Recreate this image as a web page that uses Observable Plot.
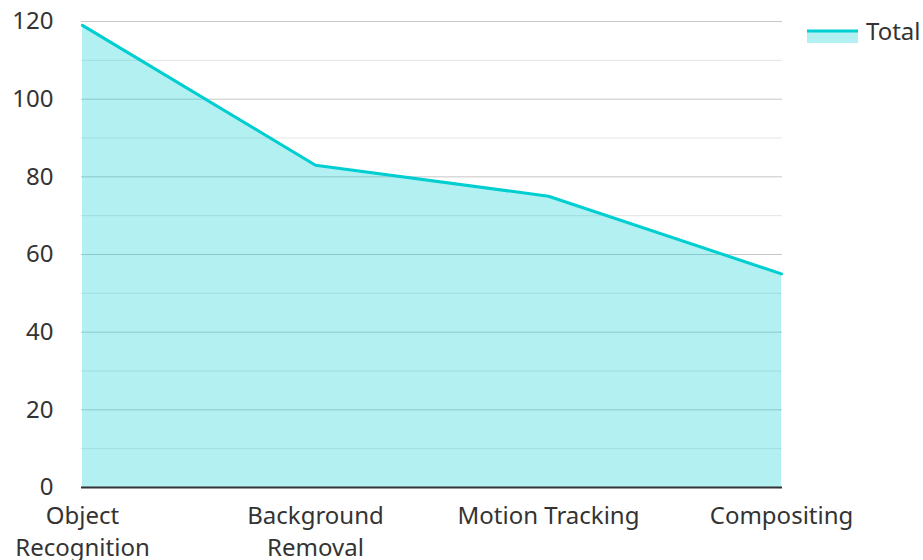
<!DOCTYPE html>
<html>
<head>
<meta charset="utf-8">
<script src="https://cdn.jsdelivr.net/npm/d3@7"></script>
<script src="https://cdn.jsdelivr.net/npm/@observablehq/plot@0.6"></script>
<style>
  html, body { margin: 0; padding: 0; background: #fff; }
  #wrap { position: relative; width: 923px; height: 560px; font-family: "Noto Sans", sans-serif; }
  #legend { position: absolute; left: 807px; top: 16px; display: flex; align-items: center; font-size: 24px; color: #333; line-height: 30px; }
  #legend svg { margin-right: 8px; }
</style>
</head>
<body>
<div id="wrap"><div id="legend"></div></div>
<script>
const categories = ["Object Recognition", "Background Removal", "Motion Tracking", "Compositing"];
const tickLabels = ["Object\nRecognition", "Background\nRemoval", "Motion Tracking", "Compositing"];
const totals = [119, 83, 75, 55];
const majorTicks = [0, 20, 40, 60, 80, 100, 120];
const minorTicks = [10, 30, 50, 70, 90, 110];
const seriesName = "Total";
const color = "#00CED1";

const data = categories.map((c, i) => ({category: c, value: totals[i]}));
const labelOf = new Map(categories.map((c, i) => [c, tickLabels[i]]));

const chart = Plot.plot({
  width: 923,
  height: 560,
  marginLeft: 81,
  marginRight: 141,
  marginTop: 21,
  marginBottom: 73,
  style: {fontFamily: "Noto Sans, sans-serif", fontSize: "24px", color: "#333", background: "#fff"},
  x: {type: "point", domain: categories, padding: 0},
  y: {domain: [0, 120]},
  marks: [
    Plot.ruleY(minorTicks, {stroke: "#e4e4e4", strokeWidth: 1}),
    Plot.ruleY(majorTicks.filter(d => d > 0), {stroke: "#c6c6c6", strokeWidth: 1}),
    Plot.areaY(data, {x: "category", y: "value", fill: color, fillOpacity: 0.3}),
    Plot.lineY(data, {x: "category", y: "value", stroke: color, strokeWidth: 3}),
    Plot.ruleY([0], {stroke: "#333", strokeWidth: 2}),
    Plot.axisY({ticks: majorTicks, tickSize: 0, tickPadding: 28, fontSize: 24, fill: "#333", label: null}),
    Plot.axisX({tickSize: 0, tickPadding: 14, fontSize: 24, fill: "#333", lineHeight: 1.33, label: null, tickFormat: d => labelOf.get(d)})
  ]
});
document.getElementById("wrap").prepend(chart);

const lg = document.getElementById("legend");
lg.innerHTML = `<svg width="51" height="30"><rect x="0" y="15" width="51" height="12" fill="${color}" fill-opacity="0.3"></rect><rect x="0" y="13.5" width="51" height="3" fill="${color}"></rect></svg><span>${seriesName}</span>`;
</script>
</body>
</html>
